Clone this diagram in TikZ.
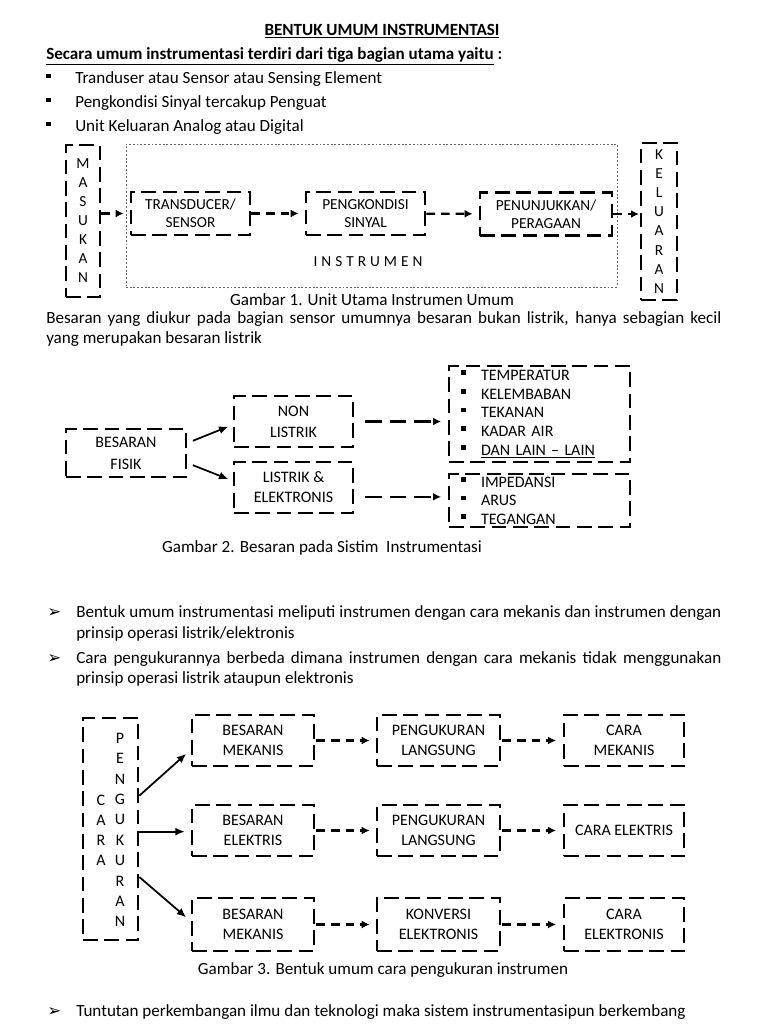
\documentclass[tikz,border=0pt]{standalone}
\usepackage{fontspec}
\setmainfont{Carlito}
\newfontfamily\simbol{DejaVu Sans}
\usetikzlibrary{arrows.meta}

\tikzset{
  kotak/.style={draw, line width=2pt, dash pattern=on 11pt off 5pt, align=center, inner sep=0pt, font=\fontsize{12}{15}\selectfont},
  titik/.style={draw, black!60, line width=0.7pt, dash pattern=on 1.4pt off 1.4pt, inner sep=0pt},
  tegak/.style={align=center, inner sep=0pt},
  putus/.style={line width=1.7pt, dash pattern=on 6.5pt off 4.5pt, -{Latex[length=6pt,width=6pt]}},
  putuspanjang/.style={line width=1.7pt, dash pattern=on 12.5pt off 6pt, -{Latex[length=6pt,width=6pt]}},
  panah/.style={line width=1.3pt, -{Latex[length=7pt,width=6pt]}},
  baris/.style={anchor=west, inner sep=0pt, text height=8.5pt, text depth=3pt},
  judul/.style={inner sep=0pt, text height=8.5pt, text depth=3pt},
}
\newcommand{\kotakkecil}{\rule[4pt]{3.5pt}{3.5pt}}
\newcommand{\panahkanan}{{\simbol\fontsize{12.5}{12.5}\selectfont\raisebox{0.5pt}{\char"27A2}}}

\begin{document}
\begin{tikzpicture}[x=0.75pt,y=-0.75pt,font=\fontsize{12.8}{15}\selectfont]
  \fill[white] (0,0) rectangle (768,1024);
  \useasboundingbox (0,0) rectangle (768,1024);

  % judul dan daftar bagian
  \node[judul] (judul) at (382,32) {\textbf{\underline{BENTUK UMUM INSTRUMENTASI}}};
  \node[baris] (pengantar) at (46,56) {\textbf{\underline{Secara umum instrumentasi terdiri dari tiga bagian utama yaitu} :}};
  \foreach \teks [count=\i] in {Tranduser atau Sensor atau Sensing Element, Pengkondisi Sinyal tercakup Penguat, Unit Keluaran Analog atau Digital}{
    \node[baris] (tanda\i) at (46,{56+24*\i}) {\kotakkecil};
    \node[baris] (poin\i) at (75,{56+24*\i}) {\teks};
  }

  % gambar 1
  \node[kotak, minimum width=25.5pt, minimum height=114pt, font=\fontsize{11.5}{14.25}\selectfont] (masukan) at (83,221) {M\\A\\S\\U\\K\\A\\N};
  \node[titik, minimum width=368.25pt, minimum height=107.25pt] (instrumen) at (371.5,215.5) {};
  \node[kotak, minimum width=89.25pt, minimum height=32.25pt, font=\fontsize{11.5}{13.5}\selectfont] (transducer) at (190.5,213.5) {TRANSDUCER/\\SENSOR};
  \node[kotak, minimum width=89.25pt, minimum height=32.25pt, font=\fontsize{11.5}{13.5}\selectfont] (pengkondisi) at (365.5,213.5) {PENGKONDISI\\SINYAL};
  \node[kotak, minimum width=99pt, minimum height=32.25pt, font=\fontsize{11.5}{13.5}\selectfont] (penunjuk) at (546,214) {PENUNJUKKAN/\\PERAGAAN};
  \node[kotak, minimum width=27pt, minimum height=117.75pt, font=\fontsize{11.5}{14.3}\selectfont] (keluaran) at (659,221.5) {K\\E\\L\\U\\A\\R\\A\\N};
  \node[judul, font=\fontsize{11.5}{14}\selectfont] (labelinstrumen) at (368,263) {I\hspace{3pt}N\hspace{3pt}S\hspace{3pt}T\hspace{3pt}R\hspace{3pt}U\hspace{3pt}M\hspace{3pt}E\hspace{3pt}N};
  \draw[putus, shorten >=4.5pt] (transducer.west -| masukan.east) -- (transducer.west);
  \draw[putus, shorten >=4.5pt] (transducer) -- (pengkondisi);
  \draw[putus, shorten >=4.5pt] (pengkondisi) -- (penunjuk);
  \draw[putus, shorten >=0.5pt] (penunjuk.east) -- (penunjuk.east -| keluaran.west);
  \node[judul] (gambar1) at (372,302) {Gambar 1. Unit Utama Instrumen Umum};

  \node[baris] (besaran1) at (46,320) {\makebox[506.25pt][s]{Besaran yang diukur pada bagian sensor umumnya besaran bukan listrik, hanya sebagian kecil}};
  \node[baris] (besaran2) at (46,340) {yang merupakan besaran listrik};

  % gambar 2
  \node[kotak, minimum width=90pt, minimum height=36pt, font=\fontsize{12}{16.5}\selectfont] (fisik) at (126,453) {BESARAN\\FISIK};
  \node[kotak, minimum width=89.25pt, minimum height=38.25pt, font=\fontsize{12}{15.75}\selectfont] (nonlistrik) at (293.5,421.5) {NON\\LISTRIK};
  \node[kotak, minimum width=89.25pt, minimum height=38.25pt] (listrik) at (293.5,487.5) {LISTRIK \&\\ELEKTRONIS};
  \node[kotak, minimum width=135.75pt, minimum height=72pt, text width=117.75pt, inner xsep=9pt, align=left, font=\fontsize{12}{14}\selectfont] (daftarnon) at (539.5,414) {%
    \makebox[15pt][l]{\kotakkecil}TEMPERATUR\\
    \makebox[15pt][l]{\kotakkecil}KELEMBABAN\\
    \makebox[15pt][l]{\kotakkecil}TEKANAN\\
    \makebox[15pt][l]{\kotakkecil}KADAR AIR\\
    \makebox[15pt][l]{\kotakkecil}\underline{DAN LAIN – LAIN}};
  \node[kotak, minimum width=135.75pt, minimum height=39.75pt, text width=117.75pt, inner xsep=9pt, align=left, font=\fontsize{12}{13.9}\selectfont] (daftarlistrik) at (539.5,500.5) {%
    \makebox[15pt][l]{\kotakkecil}IMPEDANSI\\
    \makebox[15pt][l]{\kotakkecil}ARUS\\
    \makebox[15pt][l]{\kotakkecil}TEGANGAN};
  \draw[panah, shorten <=4.5pt, shorten >=3.5pt] ([yshift=7.5pt]fisik.east) -- ([yshift=-2.5pt]nonlistrik.west);
  \draw[panah, shorten <=4.5pt, shorten >=3.5pt] ([yshift=-7.5pt]fisik.east) -- ([yshift=5pt]listrik.west);
  \draw[putuspanjang, shorten <=8pt, shorten >=5pt] (nonlistrik.east) -- (nonlistrik.east -| daftarnon.west);
  \draw[putuspanjang, shorten <=8pt, shorten >=5pt] ([yshift=-7pt]listrik.east) -- ([yshift=-7pt]listrik.east -| daftarlistrik.west);
  \node[judul] (gambar2) at (322,549) {Gambar 2. Besaran pada Sistim\ \ Instrumentasi};

  % keterangan
  \node[baris] (tanda4) at (47,614) {\panahkanan};
  \node[baris] (bentuk1) at (76,614) {\makebox[483.75pt][s]{Bentuk umum instrumentasi meliputi instrumen dengan cara mekanis dan instrumen dengan}};
  \node[baris] (bentuk2) at (76,635) {prinsip operasi listrik/elektronis};
  \node[baris] (tanda5) at (47,660) {\panahkanan};
  \node[baris] (beda1) at (76,660) {\makebox[483.75pt][s]{Cara pengukurannya berbeda dimana instrumen dengan cara mekanis tidak menggunakan}};
  \node[baris] (beda2) at (76,680) {prinsip operasi listrik ataupun elektronis};

  % gambar 3
  \node[kotak, minimum width=41.25pt, minimum height=166.5pt] (caraukur) at (110.5,829) {};
  \node[tegak, font=\fontsize{12}{15}\selectfont] (hurufcara) at (101,830) {C\\A\\R\\A};
  \node[tegak, font=\fontsize{12}{15.3}\selectfont] (hurufukur) at (120,830) {P\\E\\N\\G\\U\\K\\U\\R\\A\\N};
  \node[kotak, minimum width=91.5pt, minimum height=38.25pt] (mekanis1) at (253,740.5) {BESARAN\\MEKANIS};
  \node[kotak, minimum width=92.25pt, minimum height=38.25pt] (langsung1) at (438.5,740.5) {PENGUKURAN\\LANGSUNG};
  \node[kotak, minimum width=90pt, minimum height=38.25pt] (caramekanis) at (624,740.5) {CARA\\MEKANIS};
  \node[kotak, minimum width=91.5pt, minimum height=38.25pt] (elektris) at (253,830.5) {BESARAN\\ELEKTRIS};
  \node[kotak, minimum width=92.25pt, minimum height=38.25pt] (langsung2) at (438.5,830.5) {PENGUKURAN\\LANGSUNG};
  \node[kotak, minimum width=90pt, minimum height=38.25pt] (caraelektris) at (624,830.5) {CARA ELEKTRIS};
  \node[kotak, minimum width=91.5pt, minimum height=39.75pt] (mekanis2) at (253,924.5) {BESARAN\\MEKANIS};
  \node[kotak, minimum width=92.25pt, minimum height=39.75pt] (konversi) at (438.5,924.5) {KONVERSI\\ELEKTRONIS};
  \node[kotak, minimum width=90pt, minimum height=39.75pt, font=\fontsize{12}{15.5}\selectfont] (caraelektronis) at (624,924.5) {CARA\\ELEKTRONIS};
  \draw[panah, shorten >=4.5pt] ([yshift=25pt]caraukur.east) -- ([yshift=-7pt]mekanis1.west);
  \draw[panah, shorten >=4.5pt] ([yshift=-2pt]caraukur.east) -- ([yshift=-2pt]caraukur.east -| elektris.west);
  \draw[panah, shorten >=4.5pt] ([yshift=-36pt]caraukur.east) -- ([yshift=2.5pt]mekanis2.west);
  \draw[putus, shorten <=0.75pt, shorten >=4.5pt] (mekanis1) -- (langsung1);
  \draw[putus, shorten <=0.75pt, shorten >=5pt] (langsung1) -- (caramekanis);
  \draw[putus, shorten <=0.75pt, shorten >=4.5pt] (elektris) -- (langsung2);
  \draw[putus, shorten <=0.75pt, shorten >=5pt] (langsung2) -- (caraelektris);
  \draw[putus, shorten <=0.75pt, shorten >=4.5pt] (mekanis2) -- (konversi);
  \draw[putus, shorten <=0.75pt, shorten >=5pt] (konversi) -- (caraelektronis);
  \node[judul] (gambar3) at (383,971) {Gambar 3. Bentuk umum cara pengukuran instrumen};

  \node[baris] (tanda6) at (47,1013) {\panahkanan};
  \node[baris] (tuntutan) at (76,1013) {Tuntutan perkembangan ilmu dan teknologi maka sistem instrumentasipun berkembang};
\end{tikzpicture}
\end{document}
